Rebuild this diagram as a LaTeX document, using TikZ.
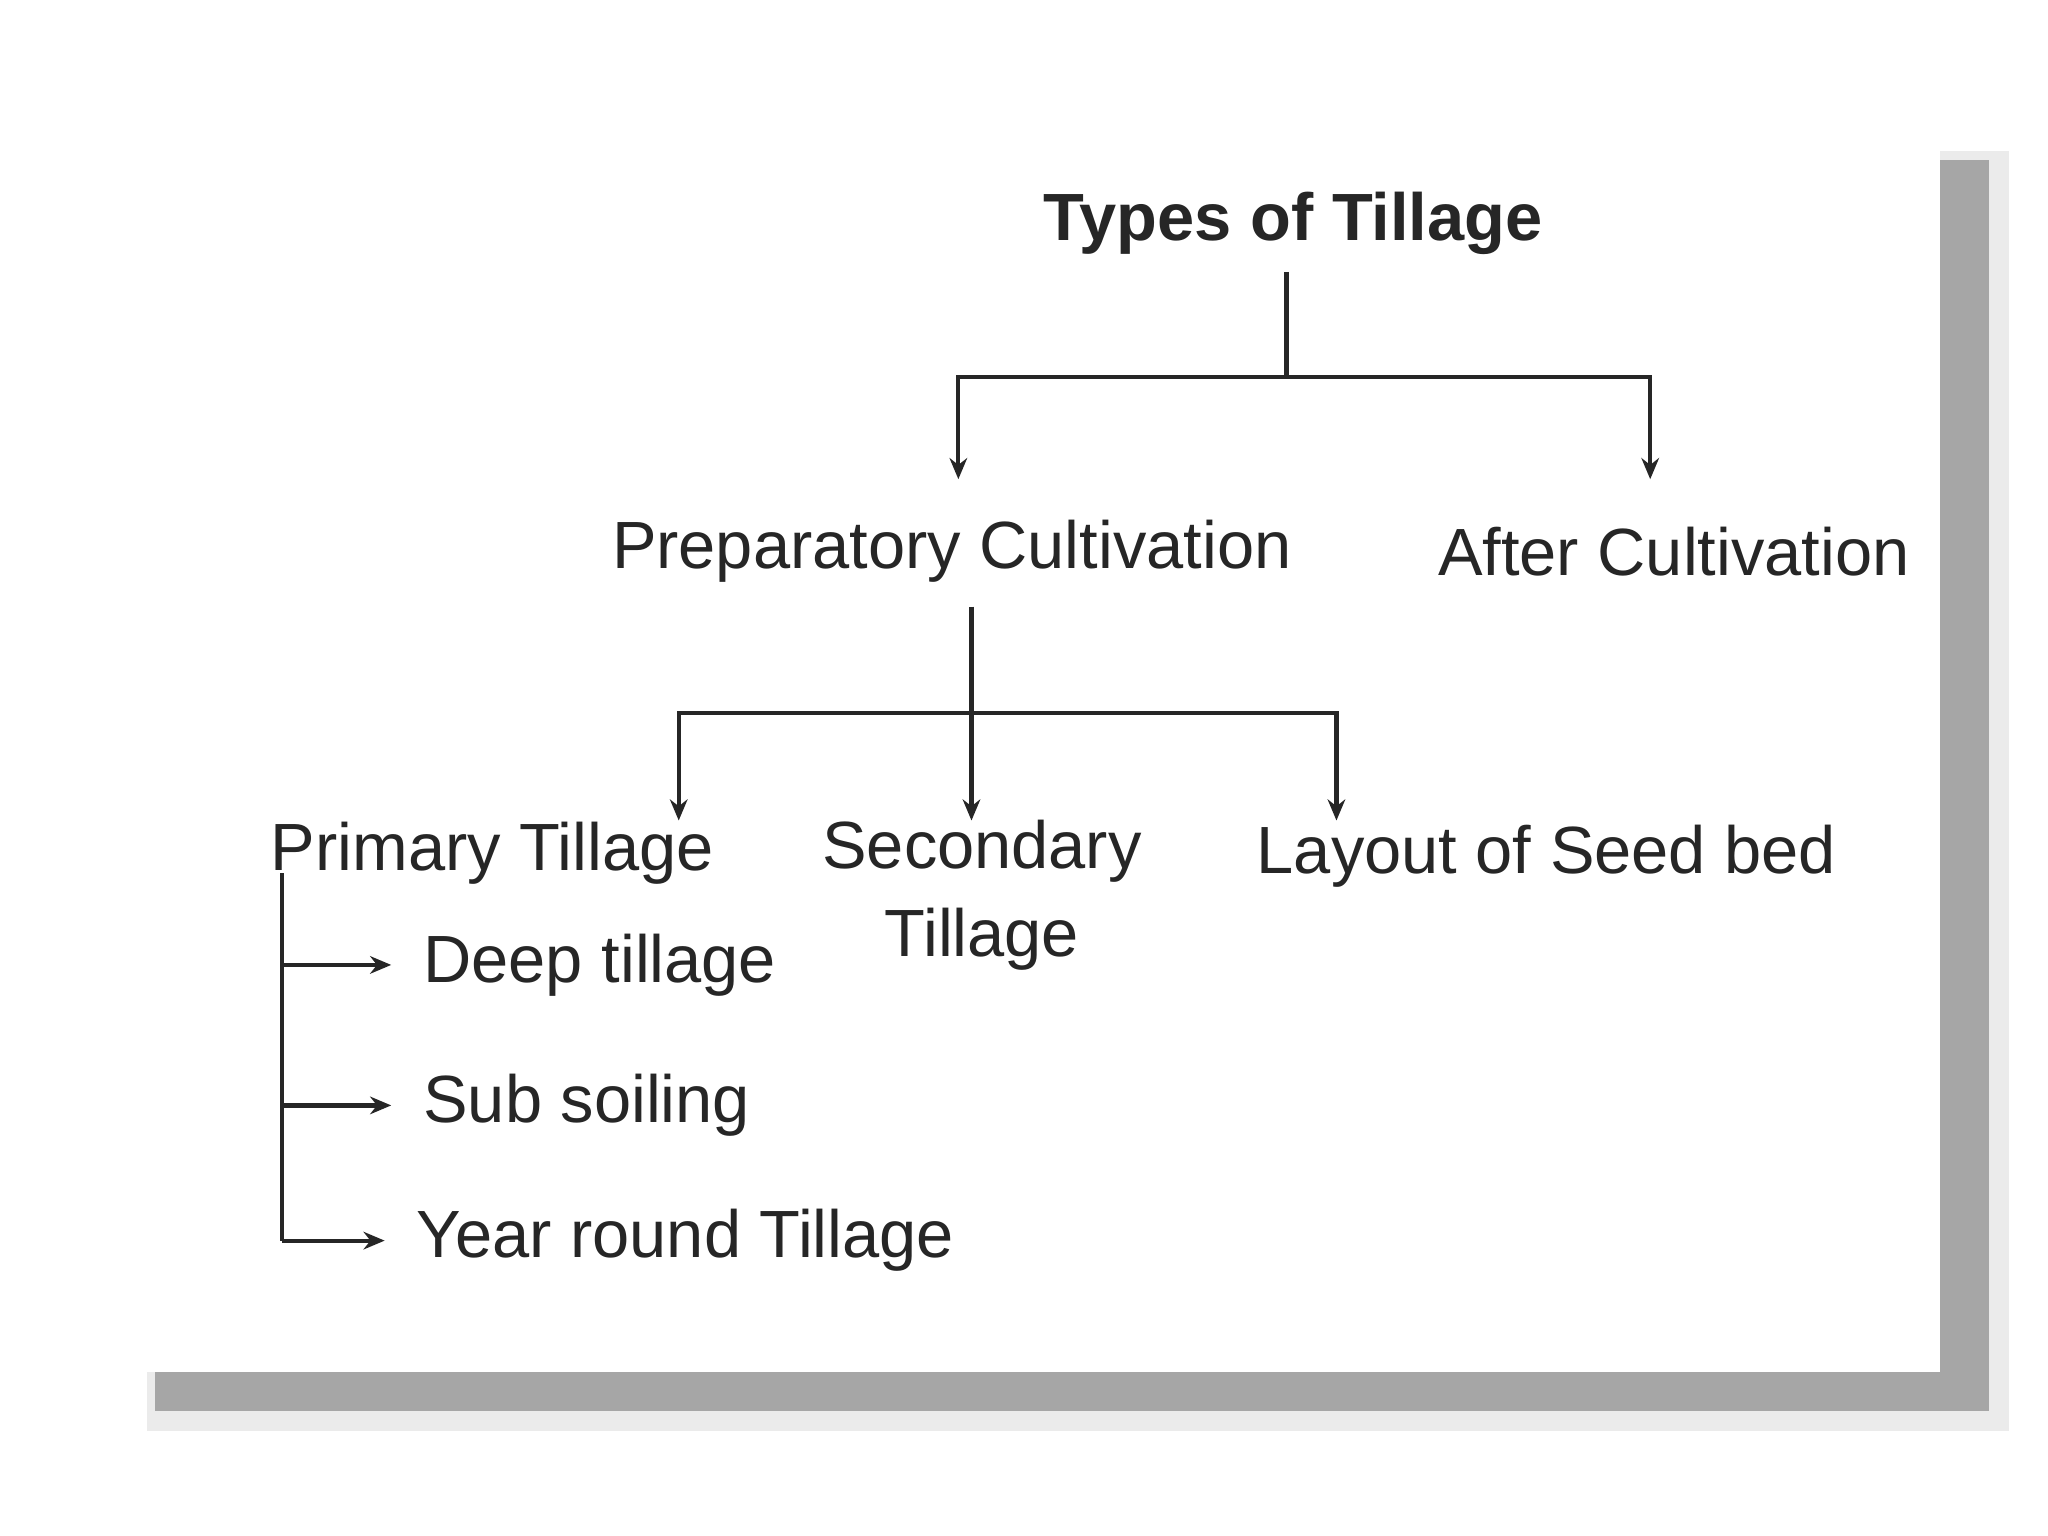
\documentclass[tikz,border=0pt]{standalone}
\usepackage{fontspec}
\setmainfont{Liberation Sans}
\usetikzlibrary{arrows.meta}
\begin{document}
\begin{tikzpicture}[x=0.013128cm,y=-0.013128cm,
  lbl/.style={font=\fontsize{19}{23}\selectfont, text=black!85, inner sep=0pt},
  ln/.style={line width=1.2pt, black!85},
  arr/.style={ln, -{Stealth[length=6pt,width=5pt]}}]
\useasboundingbox (0,0) rectangle (1560,1170);
% shadow
\fill[black!8] (112,1040) rectangle (1530,1090);
\fill[black!8] (1470,115) rectangle (1530,1090);
\fill[black!35] (118,1045) rectangle (1515,1075);
\fill[black!35] (1478,122) rectangle (1515,1075);
\fill[white] (100,105) rectangle (1478,1045);
% nodes
\node[lbl, font=\bfseries\fontsize{19}{23}\selectfont] (t) at (985,170) {Types of Tillage};
\node[lbl] (pc) at (725,420) {Preparatory Cultivation};
\node[lbl] (ac) at (1275,420) {After Cultivation};
\node[lbl] (pt) at (375,650) {Primary Tillage};
\node[lbl, align=center] (st) at (748,682) {Secondary\\[2pt]Tillage};
\node[lbl] (ls) at (1178,652) {Layout of Seed bed};
\node[lbl, anchor=west] (dt) at (322,735) {Deep tillage};
\node[lbl, anchor=west] (ss) at (322,842) {Sub soiling};
\node[lbl, anchor=west] (yr) at (317,945) {Year round Tillage};
% connectors
\coordinate (t1) at (980,207); \coordinate (t2) at (980,287);
\draw[ln] (t1) -- (t2);
\draw[arr] (t2) -- (730,287) -- (730,365);
\draw[arr] (t2) -- (1257,287) -- (1257,365);
\coordinate (p1) at (740,462); \coordinate (p2) at (740,543);
\draw[arr] (p1) -- (740,625);
\draw[arr] (p2) -- (517,543) -- (517,625);
\draw[arr] (p2) -- (1018,543) -- (1018,625);
\coordinate (b1) at (215,665); \coordinate (b2) at (215,945);
\coordinate (e1) at (298,735); \coordinate (e2) at (298,842); \coordinate (e3) at (293,945);
\draw[ln] (b1) -- (b2);
\draw[arr] (215,735) -- (e1);
\draw[arr] (215,842) -- (e2);
\draw[arr] (b2) -- (e3);
\end{tikzpicture}
\end{document}
